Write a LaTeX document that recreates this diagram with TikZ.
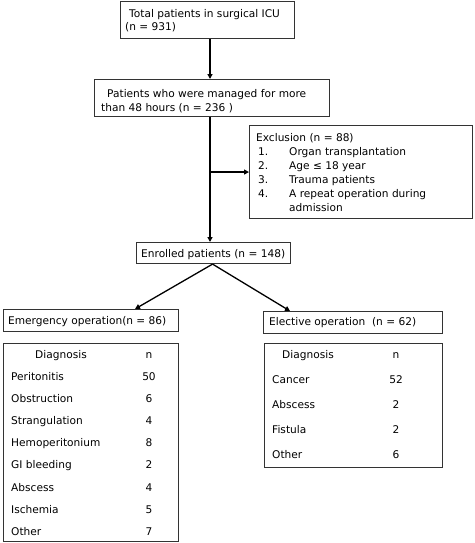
\documentclass[tikz,border=0pt]{standalone}
\usepackage{fontspec}
\setmainfont{DejaVu Sans}
\usetikzlibrary{arrows.meta,calc}
\tikzset{
  box/.style={draw=black!80, line width=1.1pt, inner sep=0pt, anchor=north west},
  txt/.style={anchor=base west, inner sep=0pt, font=\fontsize{10.6}{13}\selectfont},
  ctxt/.style={anchor=base, inner sep=0pt, font=\fontsize{10.6}{13}\selectfont},
  arr/.style={draw=black, line width=1.3pt, -{Triangle[length=5pt,width=5pt]}}
}
\begin{document}
\begin{tikzpicture}[x=1pt,y=-1pt]
\useasboundingbox (0,0) rectangle (474,543);
% boxes
\node[box, minimum width=174pt, minimum height=37.5pt] (b1) at (120,0.8) {};
\node[box, minimum width=235pt, minimum height=37pt] (b2) at (94,79) {};
\node[box, minimum width=223pt, minimum height=93pt] (ex) at (249,125) {};
\node[box, minimum width=154pt, minimum height=21pt] (en) at (136,242) {};
\node[box, minimum width=175pt, minimum height=22pt] (em) at (3,309) {};
\node[box, minimum width=179pt, minimum height=22pt] (el) at (263,311) {};
\node[box, minimum width=175pt, minimum height=198pt] (emt) at (3,343) {};
\node[box, minimum width=178pt, minimum height=124pt] (elt) at (264,343) {};
\coordinate (vx) at (210,0);
% texts
\node[txt] (t1a) at (129,18) {Total patients in surgical ICU};
\node[txt] (t1b) at (125,31) {(n = 931)};
\node[txt] (t2a) at (107,97) {Patients who were managed for more};
\node[txt] (t2b) at (101,111) {than 48 hours (n = 236 )};
\node[txt] (x0) at (256,141) {Exclusion (n = 88)};
\node[txt] (x1n) at (258,155) {1.};
\node[txt] (x1) at (289,155) {Organ transplantation};
\node[txt] (x2n) at (258,169) {2.};
\node[txt] (x2) at (289,169) {Age ≤ 18 year};
\node[txt] (x3n) at (258,183) {3.};
\node[txt] (x3) at (289,183) {Trauma patients};
\node[txt] (x4n) at (258,197) {4.};
\node[txt] (x4) at (289,197) {A repeat operation during};
\node[txt] (x5) at (289,211) {admission};
\node[txt] (tent) at (141,257) {Enrolled patients (n = 148)};
\node[txt] (tem) at (8,324) {Emergency operation(n = 86)};
\node[txt] (tel) at (269,325) {Elective operation\ \ (n = 62)};
% emergency table
\node[ctxt] (h1) at (61,358) {Diagnosis};
\node[ctxt] (h1n) at (149,358) {n};
\foreach \lab/\val/\yy [count=\i] in {Peritonitis/50/380, Obstruction/6/402, Strangulation/4/424, Hemoperitonium/8/446, GI bleeding/2/468, Abscess/4/491, Ischemia/5/513, Other/7/535}{
  \node[txt] (ea\i) at (11,\yy) {\lab};
  \node[ctxt] (eb\i) at (149,\yy) {\val};
}
% elective table
\node[ctxt] (h2) at (308,358) {Diagnosis};
\node[ctxt] (h2n) at (396,358) {n};
\foreach \lab/\val/\yy [count=\i] in {Cancer/52/383, Abscess/2/408, Fistula/2/433, Other/6/458}{
  \node[txt] (la\i) at (272,\yy) {\lab};
  \node[ctxt] (lb\i) at (396,\yy) {\val};
}
% connectors
\draw[arr] (b1.south -| vx) -- (b2.north -| vx);
\draw[arr] (b2.south -| vx) -- (en.north -| vx);
\draw[arr] (vx |- ex.west) -- (ex.west);
\draw[arr] ($(en.south)+(-1,0)$) -- ($(em.north west)+(132,0)$);
\draw[arr] ($(en.south)+(-1,0)$) -- ($(el.north west)+(27,0)$);
\end{tikzpicture}
\end{document}
